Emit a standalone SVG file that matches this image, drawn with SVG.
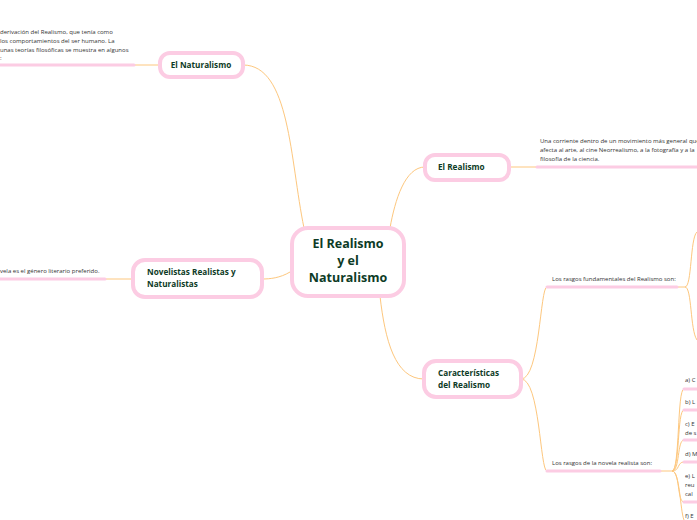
<svg xmlns="http://www.w3.org/2000/svg" width="697" height="520" viewBox="0 0 697 520">
<style>
.n{fill:#fff;stroke:#fccce3;stroke-width:4}
.t{font-family:"Open Sans","Noto Sans",sans-serif;font-weight:bold;fill:#0d3b26}
.s{font-family:"Open Sans","Noto Sans",sans-serif;font-size:6px;fill:#333}
.c{fill:none;stroke:#fdc77e;stroke-width:1}
.u{stroke:#fccce3;stroke-width:3;stroke-linecap:round}
</style>
<rect width="697" height="520" fill="#fff"/>
<g id="connectors">
<path class="c" d="M304,228 C290,160 290,65 243,65"/>
<path class="c" d="M134,65 H160"/>
<path class="c" d="M390,228 C395,200 405,167 425,167"/>
<path class="c" d="M509,167 H537"/>
<path class="c" d="M290,272 C280,278 270,279 262,279"/>
<path class="c" d="M105,279 H133"/>
<path class="c" d="M380,296 C385,340 395,379 424,379"/>
<path class="c" d="M521,379 C540,379 540,287 547,287"/>
<path class="c" d="M521,379 C540,379 540,471 547,471"/>
<path class="c" d="M677,287 H685" stroke="#f7a233" stroke-width="1.5"/>
<path class="c" d="M685,287 C692,287 690,238 697,232"/>
<path class="c" d="M685,287 C692,287 690,330 697,340"/>
<path class="c" d="M660,471 H672" stroke="#f7a233" stroke-width="1.5"/>
<path class="c" d="M672,471 C680,471 677,389 684,389"/>
<path class="c" d="M672,471 C680,471 677,410 684,410"/>
<path class="c" d="M672,471 C680,471 677,440 684,440"/>
<path class="c" d="M672,471 C680,471 677,462 684,462"/>
<path class="c" d="M672,471 C680,471 677,502 684,502"/>
<path class="c" d="M672,471 C680,471 680,510 684,520"/>
</g>
<g id="center"><rect class="n" x="292" y="228" width="112" height="68" rx="16"/>
<text class="t" font-size="12.5" text-anchor="middle"><tspan x="348" y="248">El Realismo</tspan><tspan x="348" y="265">y el</tspan><tspan x="348" y="282">Naturalismo</tspan></text></g>
<g id="naturalismo"><rect class="n" x="160" y="53" width="83" height="24" rx="10"/>
<text class="t" font-size="8.2" x="201" y="68" text-anchor="middle">El Naturalismo</text></g>
<g id="naturalismo-text"><line class="u" x1="0" y1="65" x2="134" y2="65"/>
<text class="s"><tspan x="0" y="34">derivación del Realismo, que tenía como</tspan><tspan x="0" y="43">los comportamientos del ser humano.  La</tspan><tspan x="0" y="52">unas teorías filosóficas se muestra en algunos</tspan><tspan x="0" y="60">:</tspan></text></g>
<g id="realismo"><rect class="n" x="425" y="155" width="84" height="25" rx="10"/>
<text class="t" font-size="8.2" x="438" y="170">El Realismo</text></g>
<g id="realismo-text"><line class="u" x1="537" y1="167" x2="700" y2="167"/>
<text class="s"><tspan x="540" y="143">Una corriente dentro de un movimiento más general que</tspan><tspan x="540" y="152">afecta al arte, al cine Neorrealismo, a la fotografía y a la</tspan><tspan x="540" y="161">filosofía de la ciencia.</tspan></text></g>
<g id="novelistas"><rect class="n" x="133" y="260" width="129" height="37" rx="12"/>
<text class="t" font-size="8.2"><tspan x="147" y="275">Novelistas Realistas y</tspan><tspan x="147" y="287">Naturalistas</tspan></text></g>
<g id="novelistas-text"><line class="u" x1="0" y1="279" x2="105" y2="279"/>
<text class="s" x="0" y="273">vela es el género literario preferido.</text></g>
<g id="caracteristicas"><rect class="n" x="424" y="361" width="97" height="36" rx="12"/>
<text class="t" font-size="8.2"><tspan x="438" y="376">Características</tspan><tspan x="438" y="388">del Realismo</tspan></text></g>
<g id="rasgos"><line class="u" x1="547" y1="287" x2="677" y2="287"/>
<text class="s" x="552" y="281">Los rasgos fundamentales del Realismo son:</text></g>
<g id="rasgos-novela"><line class="u" x1="547" y1="471" x2="660" y2="471"/>
<text class="s" x="552" y="465">Los rasgos de la novela realista son:</text></g>
<g id="items">
<line class="u" x1="684" y1="389" x2="700" y2="389"/><text class="s" x="685" y="382">a) C</text>
<line class="u" x1="684" y1="410" x2="700" y2="410"/><text class="s" x="685" y="404">b) L</text>
<line class="u" x1="684" y1="440" x2="700" y2="440"/><text class="s"><tspan x="685" y="426">c) E</tspan><tspan x="685" y="435">de s</tspan></text>
<line class="u" x1="684" y1="462" x2="700" y2="462"/><text class="s" x="685" y="456">d) M</text>
<line class="u" x1="684" y1="502" x2="700" y2="502"/><text class="s"><tspan x="685" y="478">e) L</tspan><tspan x="685" y="487">reu</tspan><tspan x="685" y="496">cal</tspan></text>
<text class="s" x="685" y="518">f) E</text>
</g>
</svg>
